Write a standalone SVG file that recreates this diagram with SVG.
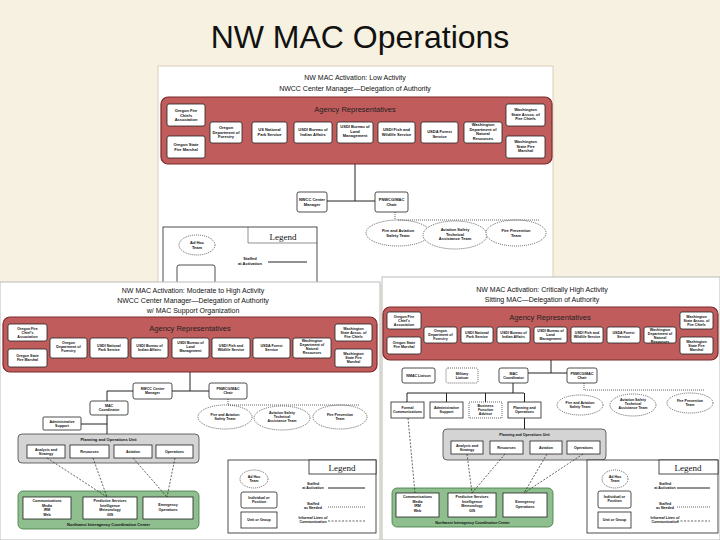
<svg xmlns="http://www.w3.org/2000/svg" width="720" height="540" viewBox="0 0 720 540">
<style>
text{font-family:"Liberation Sans",Arial,sans-serif;fill:#111;text-anchor:middle}
.ttl{font-size:32px}
.h{font-size:7px}
.ar{font-size:7.5px;fill:#222}
.t{font-size:3.6px;font-weight:bold}
.t4{font-size:4px;font-weight:bold}
.s{font-size:4px}
.pan{fill:#fff;stroke:#d8d0b8;stroke-width:1}
.red{fill:#c05c5c;stroke:#7a2a2a;stroke-width:1.2}
.bx{fill:#fff;stroke:#222;stroke-width:0.8}
.dbx{fill:#fff;stroke:#222;stroke-width:0.7;stroke-dasharray:1 1}
.gray{fill:#d4d4d4;stroke:#444;stroke-width:0.8}
.green{fill:#8fbf8f;stroke:#3d7a3d;stroke-width:0.8}
.ln{stroke:#222;stroke-width:1;fill:none}
.dot{stroke:#222;stroke-width:0.7;fill:none;stroke-dasharray:1 1}
.dsh{stroke:#222;stroke-width:0.7;fill:none;stroke-dasharray:2 1.5}
.ell{fill:#fff;stroke:#222;stroke-width:0.7;stroke-dasharray:1 1}
.lg{font-family:"Liberation Serif",serif;font-size:9px}
</style>
<rect width="720" height="540" fill="#f6f1e0"/>
<text class="ttl" x="360" y="48">NW MAC Operations</text>

<!-- Panel 1 -->
<g id="panel1">
<rect class="pan" x="158" y="66" width="395" height="220"/>
<text class="h" x="355" y="80">NW MAC Activation:  Low Activity</text>
<text class="h" x="355" y="91">NWCC Center Manager—Delegation of Authority</text>
<rect class="red" x="161" y="97" width="391" height="67" rx="7"/>
<text class="ar" x="355" y="112">Agency Representatives</text>
<g id="p1-nodes">
<rect class="bx" x="167" y="104" width="38" height="22" rx="2"/><text class="t4" x="186" y="112">Oregon Fire<tspan x="186" dy="4.5">Chiefs</tspan><tspan x="186" dy="4.5">Association</tspan></text>
<rect class="bx" x="167" y="136" width="38" height="22" rx="2"/><text class="t4" x="186" y="146">Oregon State<tspan x="186" dy="4.5">Fire Marshal</tspan></text>
<rect class="bx" x="210" y="122" width="32" height="21" rx="2"/><text class="t4" x="226" y="129">Oregon<tspan x="226" dy="4.5">Department of</tspan><tspan x="226" dy="4.5">Forestry</tspan></text>
<rect class="bx" x="252" y="122" width="35" height="21" rx="2"/><text class="t4" x="269.5" y="131">US National<tspan x="269.5" dy="4.5">Park Service</tspan></text>
<rect class="bx" x="294" y="122" width="38" height="21" rx="2"/><text class="t4" x="313" y="131">USDI Bureau of<tspan x="313" dy="4.5">Indian Affairs</tspan></text>
<rect class="bx" x="337" y="122" width="36" height="21" rx="2"/><text class="t4" x="355" y="128">USDI Bureau of<tspan x="355" dy="4.5">Land</tspan><tspan x="355" dy="4.5">Management</tspan></text>
<rect class="bx" x="378" y="122" width="37" height="21" rx="2"/><text class="t4" x="396.5" y="131">USDI Fish and<tspan x="396.5" dy="4.5">Wildlife Service</tspan></text>
<rect class="bx" x="421" y="122" width="37" height="21" rx="2"/><text class="t4" x="439.5" y="133">USDA Forest<tspan x="439.5" dy="4.5">Service</tspan></text>
<rect class="bx" x="464" y="122" width="38" height="21" rx="2"/><text class="t4" x="483" y="126">Washington<tspan x="483" dy="4.5">Department of</tspan><tspan x="483" dy="4.5">Natural</tspan><tspan x="483" dy="4.5">Resources</tspan></text>
<rect class="bx" x="506" y="104" width="39" height="22" rx="2"/><text class="t4" x="525.5" y="111">Washington<tspan x="525.5" dy="4.5">State Assoc. of</tspan><tspan x="525.5" dy="4.5">Fire Chiefs</tspan></text>
<rect class="bx" x="506" y="136" width="39" height="22" rx="2"/><text class="t4" x="525.5" y="143">Washington<tspan x="525.5" dy="4.5">State Fire</tspan><tspan x="525.5" dy="4.5">Marshal</tspan></text>
<rect class="bx" x="297" y="192" width="30" height="20" rx="2"/><text class="t4" x="312" y="201">NWCC Center<tspan x="312" dy="4.5">Manager</tspan></text>
<rect class="bx" x="375" y="192" width="33" height="20" rx="2"/><text class="t4" x="391.5" y="201">PNWCG/MAC<tspan x="391.5" dy="4.5">Chair</tspan></text>
<ellipse class="ell" cx="398" cy="233" rx="32" ry="13"/><text class="t4" x="398" y="232">Fire and Aviation<tspan x="398" dy="4.5">Safety Team</tspan></text>
<ellipse class="ell" cx="455" cy="235" rx="32" ry="14"/><text class="t4" x="455" y="231">Aviation Safety<tspan x="455" dy="4.5">Technical</tspan><tspan x="455" dy="4.5">Assistance Team</tspan></text>
<ellipse class="ell" cx="516" cy="233" rx="30" ry="13"/><text class="t4" x="516" y="232">Fire Prevention<tspan x="516" dy="4.5">Team</tspan></text>
</g>
<g id="p1-connectors">
<path class="ln" d="M355 164V201M327 201H375"/>
<path class="dot" d="M395 212V220M398 220H540M398 220V220"/>
</g>
<g id="p1-legend">
<rect x="163" y="227" width="154" height="60" fill="#fff" stroke="#222" stroke-width="0.8"/>
<path d="M248 227V243H317" fill="none" stroke="#222" stroke-width="0.5"/>
<text class="lg" x="283" y="240">Legend</text>
<ellipse class="ell" cx="197" cy="245" rx="18" ry="10"/><text class="t4" x="197" y="244">Ad Hoc<tspan x="197" dy="4.5">Team</tspan></text>
<text class="t4" x="250" y="260">Staffed<tspan x="250" dy="4.5">at Activation</tspan></text>
<path class="ln" d="M268 262H307"/>
<rect class="bx" x="177" y="265" width="38" height="18" rx="2"/>
</g>
</g>

<!-- Panel 2 -->
<g id="panel2">
<rect x="0" y="282" width="380" height="258" fill="#fff" stroke="#bbb" stroke-width="1"/>
<text class="h" x="193" y="293">NW MAC Activation:  Moderate to High Activity</text>
<text class="h" x="193" y="303">NWCC Center Manager—Delegation of Authority</text>
<text class="h" x="193" y="313">w/ MAC Support Organization</text>
<rect class="red" x="3" y="317" width="374" height="55" rx="7"/>
<text class="ar" x="190" y="331">Agency Representatives</text>
<g id="p2-nodes">
<rect class="bx" x="8" y="324" width="39" height="17" rx="2"/><text class="t" x="27.5" y="330">Oregon Fire<tspan x="27.5" dy="4">Chief's</tspan><tspan x="27.5" dy="4">Association</tspan></text>
<rect class="bx" x="8" y="349" width="39" height="18" rx="2"/><text class="t" x="27.5" y="357">Oregon State<tspan x="27.5" dy="4">Fire Marshal</tspan></text>
<rect class="bx" x="50" y="338" width="37" height="20" rx="2"/><text class="t" x="68.5" y="344">Oregon<tspan x="68.5" dy="4">Department of</tspan><tspan x="68.5" dy="4">Forestry</tspan></text>
<rect class="bx" x="90" y="338" width="38" height="20" rx="2"/><text class="t" x="109" y="347">USDI National<tspan x="109" dy="4">Park Service</tspan></text>
<rect class="bx" x="131" y="338" width="37" height="20" rx="2"/><text class="t" x="149.5" y="347">USDI Bureau of<tspan x="149.5" dy="4">Indian Affairs</tspan></text>
<rect class="bx" x="172" y="338" width="37" height="20" rx="2"/><text class="t" x="190.5" y="344">USDI Bureau of<tspan x="190.5" dy="4">Land</tspan><tspan x="190.5" dy="4">Management</tspan></text>
<rect class="bx" x="212" y="338" width="38" height="20" rx="2"/><text class="t" x="231" y="347">USDI Fish and<tspan x="231" dy="4">Wildlife Service</tspan></text>
<rect class="bx" x="253" y="338" width="37" height="20" rx="2"/><text class="t" x="271.5" y="347">USDA Forest<tspan x="271.5" dy="4">Service</tspan></text>
<rect class="bx" x="293" y="338" width="38" height="20" rx="2"/><text class="t" x="312" y="342">Washington<tspan x="312" dy="4">Department of</tspan><tspan x="312" dy="4">Natural</tspan><tspan x="312" dy="4">Resources</tspan></text>
<rect class="bx" x="335" y="324" width="37" height="17" rx="2"/><text class="t" x="353.5" y="330">Washington<tspan x="353.5" dy="4">State Assoc. of</tspan><tspan x="353.5" dy="4">Fire Chiefs</tspan></text>
<rect class="bx" x="335" y="349" width="37" height="18" rx="2"/><text class="t" x="353.5" y="355">Washington<tspan x="353.5" dy="4">State Fire</tspan><tspan x="353.5" dy="4">Marshal</tspan></text>
<rect class="bx" x="133" y="383" width="39" height="16" rx="2" fill="#f4f4f4"/><text class="t" x="152.5" y="390">NWCC Center<tspan x="152.5" dy="4">Manager</tspan></text>
<rect class="bx" x="209" y="383" width="38" height="16" rx="2" fill="#f4f4f4"/><text class="t" x="228" y="390">PNWCG/MAC<tspan x="228" dy="4">Chair</tspan></text>
<rect class="bx" x="90" y="401" width="38" height="14" rx="2" fill="#f4f4f4"/><text class="t" x="109" y="407">MAC<tspan x="109" dy="4">Coordinator</tspan></text>
<rect class="bx" x="43" y="417" width="38" height="13" rx="1"/><text class="t" x="62" y="422.5">Administrative<tspan x="62" dy="4">Support</tspan></text>
<ellipse class="ell" cx="225" cy="417" rx="27" ry="12"/><text class="t" x="225" y="416">Fire and Aviation<tspan x="225" dy="4">Safety Team</tspan></text>
<ellipse class="ell" cx="282" cy="418" rx="28" ry="12"/><text class="t" x="282" y="414">Aviation Safety<tspan x="282" dy="4">Technical</tspan><tspan x="282" dy="4">Assistance Team</tspan></text>
<ellipse class="ell" cx="340" cy="417" rx="27" ry="12"/><text class="t" x="340" y="416">Fire Prevention<tspan x="340" dy="4">Team</tspan></text>
<rect class="gray" x="18" y="434" width="181" height="29" rx="4"/><text class="t4" x="108.5" y="441">Planning and Operations Unit</text>
<rect class="bx" x="27" y="445" width="38" height="13"/><text class="t" x="46" y="450.5">Analysis and<tspan x="46" dy="4">Strategy</tspan></text>
<rect class="bx" x="70" y="445" width="39" height="13"/><text class="t" x="89.5" y="453">Resources</text>
<rect class="bx" x="114" y="445" width="38" height="13"/><text class="t" x="133" y="453">Aviation</text>
<rect class="bx" x="156" y="445" width="37" height="13"/><text class="t" x="174.5" y="453">Operations</text>
<rect class="green" x="18" y="491" width="181" height="38" rx="5"/><text class="t4" x="108.5" y="526">Northwest Interagency Coordination Center</text>
<rect class="bx" x="23" y="497" width="48" height="22"/><text class="t" x="47" y="502">Communications<tspan x="47" dy="4.5">Media</tspan><tspan x="47" dy="4.5">IRM</tspan><tspan x="47" dy="4.5">Web</tspan></text>
<rect class="bx" x="83" y="497" width="54" height="22"/><text class="t" x="110" y="502">Predictive Services<tspan x="110" dy="4.5">Intelligence</tspan><tspan x="110" dy="4.5">Meteorology</tspan><tspan x="110" dy="4.5">GIS</tspan></text>
<rect class="bx" x="143" y="497" width="50" height="22"/><text class="t" x="168" y="506">Emergency<tspan x="168" dy="4.5">Operations</tspan></text>
</g>
<g id="p2-connectors">
<path class="ln" d="M190 372V391M172 391H209M133 391H107V401M107 415V434M81 424H107"/>
<path class="dot" d="M228 399V405H360"/>
<path class="dsh" d="M47 458L107 497M93 458L107 497M133 458L167 497M175 458L167 497"/>
</g>
<g id="p2-legend">
<rect x="228" y="460" width="148" height="73" fill="#fff" stroke="#222" stroke-width="0.8"/>
<rect x="309" y="460" width="67" height="14" fill="#fff" stroke="#222" stroke-width="0.8"/>
<text class="lg" x="342" y="471">Legend</text>
<ellipse class="ell" cx="254" cy="479" rx="14" ry="9"/><text class="t" x="254" y="478">Ad Hoc<tspan x="254" dy="4">Team</tspan></text>
<rect class="bx" x="241" y="492" width="36" height="16" rx="2"/><text class="t" x="259" y="499">Individual or<tspan x="259" dy="4">Position</tspan></text>
<rect class="bx" x="241" y="512" width="36" height="16" fill="#f0f0f0"/><text class="t" x="259" y="521">Unit or Group</text>
<text class="t" x="313" y="485">Staffed<tspan x="313" dy="4">at Activation</tspan></text>
<path class="ln" d="M328 488H365"/>
<text class="t" x="313" y="505">Staffed<tspan x="313" dy="4">as Needed</tspan></text>
<path class="dot" d="M328 507H365"/>
<text class="t" x="313" y="519">Informal Lines of<tspan x="313" dy="4">Communication</tspan></text>
<path class="dsh" d="M328 521H365" stroke-width="1"/>
</g>
</g>

<!-- Panel 3 -->
<g id="panel3">
<rect x="382" y="277" width="338" height="263" fill="#fff" stroke="#bbb" stroke-width="1"/>
<text class="h" x="542" y="292">NW MAC Activation:  Critically High Activity</text>
<text class="h" x="542" y="302">Sitting MAC—Delegation of Authority</text>
<rect class="red" x="383" y="307" width="335" height="53" rx="7"/>
<text class="ar" x="550" y="320">Agency Representatives</text>
<g id="p3-nodes">
<rect class="bx" x="387" y="312" width="34" height="17" rx="2"/><text class="t" x="404" y="318">Oregon Fire<tspan x="404" dy="4">Chief's</tspan><tspan x="404" dy="4">Association</tspan></text>
<rect class="bx" x="387" y="337" width="34" height="17" rx="2"/><text class="t" x="404" y="344">Oregon State<tspan x="404" dy="4">Fire Marshal</tspan></text>
<rect class="bx" x="424" y="327" width="33" height="16" rx="2"/><text class="t" x="440.5" y="332">Oregon<tspan x="440.5" dy="4">Department of</tspan><tspan x="440.5" dy="4">Forestry</tspan></text>
<rect class="bx" x="461" y="327" width="32" height="16" rx="2"/><text class="t" x="477" y="334">USDI National<tspan x="477" dy="4">Park Service</tspan></text>
<rect class="bx" x="497" y="327" width="33" height="16" rx="2"/><text class="t" x="513.5" y="334">USDI Bureau of<tspan x="513.5" dy="4">Indian Affairs</tspan></text>
<rect class="bx" x="534" y="327" width="33" height="16" rx="2"/><text class="t" x="550.5" y="332">USDI Bureau of<tspan x="550.5" dy="4">Land</tspan><tspan x="550.5" dy="4">Management</tspan></text>
<rect class="bx" x="571" y="327" width="32" height="16" rx="2"/><text class="t" x="587" y="334">USDI Fish and<tspan x="587" dy="4">Wildlife Service</tspan></text>
<rect class="bx" x="607" y="327" width="33" height="16" rx="2"/><text class="t" x="623.5" y="334">USDA Forest<tspan x="623.5" dy="4">Service</tspan></text>
<rect class="bx" x="644" y="327" width="32" height="16" rx="2"/><text class="t" x="660" y="331">Washington<tspan x="660" dy="4">Department of</tspan><tspan x="660" dy="4">Natural</tspan><tspan x="660" dy="4">Resources</tspan></text>
<rect class="bx" x="680" y="312" width="33" height="17" rx="2"/><text class="t" x="696.5" y="318">Washington<tspan x="696.5" dy="4">State Assoc. of</tspan><tspan x="696.5" dy="4">Fire Chiefs</tspan></text>
<rect class="bx" x="680" y="337" width="33" height="17" rx="2"/><text class="t" x="696.5" y="343">Washington<tspan x="696.5" dy="4">State Fire</tspan><tspan x="696.5" dy="4">Marshal</tspan></text>
<rect class="bx" x="402" y="368" width="33" height="15" rx="2"/><text class="t" x="418.5" y="377">NMAC Liaison</text>
<rect class="dbx" x="446" y="368" width="32" height="15" rx="2"/><text class="t" x="462" y="374.5">Military<tspan x="462" dy="4">Liaison</tspan></text>
<rect class="bx" x="499" y="368" width="29" height="15" rx="2"/><text class="t" x="513.5" y="374.5">MAC<tspan x="513.5" dy="4">Coordinator</tspan></text>
<rect class="bx" x="567" y="368" width="30" height="15" rx="2"/><text class="t" x="582" y="374.5">PNWCG/MAC<tspan x="582" dy="4">Chair</tspan></text>
<ellipse class="ell" cx="580" cy="405" rx="23" ry="10"/><text class="t" x="580" y="404">Fire and Aviation<tspan x="580" dy="4">Safety Team</tspan></text>
<ellipse class="ell" cx="633" cy="405" rx="23" ry="11"/><text class="t" x="633" y="401">Aviation Safety<tspan x="633" dy="4">Technical</tspan><tspan x="633" dy="4">Assistance Team</tspan></text>
<ellipse class="ell" cx="690" cy="403" rx="23" ry="10"/><text class="t" x="690" y="402">Fire Prevention<tspan x="690" dy="4">Team</tspan></text>
<rect class="bx" x="391" y="402" width="33" height="16"/><text class="t" x="407.5" y="409">Formal<tspan x="407.5" dy="4">Communications</tspan></text>
<rect class="bx" x="430" y="402" width="33" height="16"/><text class="t" x="446.5" y="409">Administrative<tspan x="446.5" dy="4">Support</tspan></text>
<rect class="dbx" x="469" y="402" width="33" height="16"/><text class="t" x="485.5" y="407">Business<tspan x="485.5" dy="4">Function</tspan><tspan x="485.5" dy="4">Advisor</tspan></text>
<rect class="bx" x="508" y="402" width="33" height="16"/><text class="t" x="524.5" y="409">Planning and<tspan x="524.5" dy="4">Operations</tspan></text>
<rect class="gray" x="443" y="429" width="163" height="31" rx="4"/><text class="t" x="524.5" y="436">Planning and Operations Unit</text>
<rect class="bx" x="451" y="441" width="32" height="13"/><text class="t" x="467" y="446.5">Analysis and<tspan x="467" dy="4">Strategy</tspan></text>
<rect class="bx" x="490" y="441" width="33" height="13"/><text class="t" x="506.5" y="449">Resources</text>
<rect class="bx" x="530" y="441" width="32" height="13"/><text class="t" x="546" y="449">Aviation</text>
<rect class="bx" x="567" y="441" width="33" height="13"/><text class="t" x="583.5" y="449">Operations</text>
<rect class="green" x="392" y="488" width="161" height="39" rx="5"/><text class="t" x="472.5" y="524">Northwest Interagency Coordination Center</text>
<rect class="bx" x="396" y="493" width="43" height="24"/><text class="t" x="417.5" y="498">Communications<tspan x="417.5" dy="4.5">Media</tspan><tspan x="417.5" dy="4.5">IRM</tspan><tspan x="417.5" dy="4.5">Web</tspan></text>
<rect class="bx" x="448" y="493" width="48" height="24"/><text class="t" x="472" y="498">Predictive Services<tspan x="472" dy="4.5">Intelligence</tspan><tspan x="472" dy="4.5">Meteorology</tspan><tspan x="472" dy="4.5">GIS</tspan></text>
<rect class="bx" x="503" y="493" width="44" height="24"/><text class="t" x="525" y="503">Emergency<tspan x="525" dy="4.5">Operations</tspan></text>
</g>
<g id="p3-connectors">
<path class="ln" d="M551 360V373M528 373H567M513 383V393M407 393H524M407 393V402M446.5 393V402M485.5 393V402M524.5 393V402M524.5 418V429"/>
<path class="dot" d="M584 383V390H705"/>
<path class="dsh" d="M408 418L415 493M467 454L472 493M505 454L472 493M547 454L524 493M583 454L524 493"/>
</g>
<g id="p3-legend">
<rect x="587" y="460" width="131" height="73" fill="#fff" stroke="#222" stroke-width="0.8"/>
<rect x="659" y="460" width="59" height="14" fill="#fff" stroke="#222" stroke-width="0.8"/>
<text class="lg" x="688" y="471">Legend</text>
<ellipse class="ell" cx="615" cy="479" rx="13" ry="9"/><text class="t" x="615" y="478">Ad Hoc<tspan x="615" dy="4">Team</tspan></text>
<rect class="bx" x="598" y="491" width="33" height="17" rx="2"/><text class="t" x="614.5" y="498">Individual or<tspan x="614.5" dy="4">Position</tspan></text>
<rect class="bx" x="598" y="512" width="33" height="16"/><text class="t" x="614.5" y="521">Unit or Group</text>
<text class="t" x="665" y="485">Staffed<tspan x="665" dy="4">at Activation</tspan></text>
<path class="ln" d="M677 488H710"/>
<text class="t" x="665" y="505">Staffed<tspan x="665" dy="4">as Needed</tspan></text>
<path class="dot" d="M677 507H710"/>
<text class="t" x="665" y="519">Informal Lines of<tspan x="665" dy="4">Communication</tspan></text>
<path class="dsh" d="M677 521H710"/>
</g>
</g>
</svg>
